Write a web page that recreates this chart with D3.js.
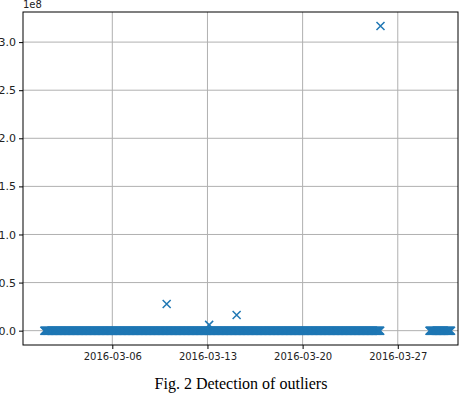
<!DOCTYPE html>
<html>
<head>
<meta charset="utf-8">
<script src="https://cdn.jsdelivr.net/npm/d3@7"></script>
<style>
  body { margin: 0; background: #fff; }
  svg { display: block; }
</style>
</head>
<body>
<div id="chart"></div>
<script>
// regular readings, all sitting on zero (start, end, step in hours)
const bandSegments = [
  { start: '2016-03-01T00:00', end: '2016-03-25T17:00', value: 0 },
  { start: '2016-03-29T08:00', end: '2016-03-30T22:00', value: 0 }
];
const outlierDates = ['2016-03-10T00:00', '2016-03-13T03:00', '2016-03-15T03:30', '2016-03-25T17:30'];
const outlierValues = [0.277e8, 0.06e8, 0.163e8, 3.167e8];
const xTickDates = ['2016-03-06', '2016-03-13', '2016-03-20', '2016-03-27'];
const yTickValues = [0, 0.5e8, 1.0e8, 1.5e8, 2.0e8, 2.5e8, 3.0e8];
const xDomain = ['2016-02-28T10:20', '2016-03-31T10:20'];
const yDomain = [-0.149e8, 3.313e8];
const caption = 'Fig. 2 Detection of outliers';

const W = 474, H = 395;
const Margin = { Top: 12, Bottom: 50, Left: 23, Right: 16 };
const Width = W - Margin.Left - Margin.Right;
const Height = H - Margin.Top - Margin.Bottom;
const parse = d3.utcParse('%Y-%m-%dT%H:%M');
const parseDay = d3.utcParse('%Y-%m-%d');

const points = [];
bandSegments.forEach(s => {
  d3.utcHour.range(parse(s.start), d3.utcHour.offset(parse(s.end), 1))
    .forEach(t => points.push({ t, v: s.value }));
});
outlierDates.forEach((d, i) => points.push({ t: parse(d), v: outlierValues[i] }));
points.sort((a, b) => a.t - b.t); // one series in time order, like the original plot

const svg = d3.select('#chart').append('svg')
  .attr('width', W).attr('height', H);
const g = svg.append('g')
  .attr('transform', `translate(${Margin.Left}, ${Margin.Top})`);

const x = d3.scaleUtc().domain(xDomain.map(parse)).range([0, Width]);
const y = d3.scaleLinear().domain(yDomain).range([Height, 0]);

// grid
g.append('g').selectAll('line').data(xTickDates.map(parseDay)).join('line')
  .attr('x1', d => x(d)).attr('x2', d => x(d))
  .attr('y1', 0).attr('y2', Height)
  .attr('stroke', '#b0b0b0').attr('stroke-width', 1);
g.append('g').selectAll('line').data(yTickValues).join('line')
  .attr('x1', 0).attr('x2', Width)
  .attr('y1', d => y(d)).attr('y2', d => y(d))
  .attr('stroke', '#b0b0b0').attr('stroke-width', 1);

// markers
const s = 4;
g.append('g').selectAll('path').data(points).join('path')
  .attr('transform', d => `translate(${x(d.t)}, ${y(d.v)})`)
  .attr('d', `M${-s},${-s}L${s},${s}M${-s},${s}L${s},${-s}`)
  .attr('stroke', '#1f77b4').attr('stroke-width', 1.5).attr('fill', 'none');

// axes
const xAxis = d3.axisBottom(x)
  .tickValues(xTickDates.map(parseDay))
  .tickFormat(d3.utcFormat('%Y-%m-%d'))
  .tickSize(4).tickPadding(4);
g.append('g').attr('transform', `translate(0, ${Height})`).call(xAxis)
  .call(a => a.select('.domain').remove())
  .call(a => a.selectAll('text').attr('font-family', 'DejaVu Sans').attr('font-size', 10).attr('fill', '#222'));

const yAxis = d3.axisLeft(y)
  .tickValues(yTickValues)
  .tickFormat(d => (d / 1e8).toFixed(1))
  .tickSize(4).tickPadding(3);
g.append('g').call(yAxis)
  .call(a => a.select('.domain').remove())
  .call(a => a.selectAll('text').attr('font-family', 'DejaVu Sans').attr('font-size', 11).attr('fill', '#222'));

g.append('rect')
  .attr('width', Width).attr('height', Height)
  .attr('fill', 'none').attr('stroke', '#000').attr('stroke-width', 1);

g.append('text')
  .attr('x', 0).attr('y', -4)
  .attr('font-family', 'DejaVu Sans').attr('font-size', 10).attr('fill', '#222')
  .text('1e8');

svg.append('text')
  .attr('x', W / 2 + 4).attr('y', 389)
  .attr('text-anchor', 'middle')
  .attr('font-family', 'Liberation Serif').attr('font-size', 16)
  .text(caption);
</script>
</body>
</html>
